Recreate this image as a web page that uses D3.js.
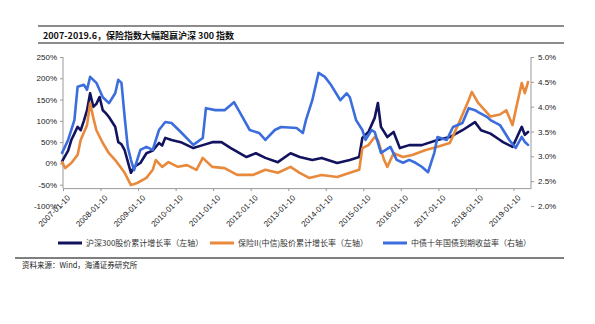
<!DOCTYPE html>
<html>
<head>
<meta charset="utf-8">
<script src="https://cdn.jsdelivr.net/npm/d3@7"></script>
<style>
  html, body { margin: 0; padding: 0; background: #fff; }
  svg { display: block; }
  .ax text { font-family: "Liberation Sans", Arial, sans-serif; font-size: 8px; fill: #222; }
  .cjk { font-family: "Noto Sans CJK SC", sans-serif; }
</style>
</head>
<body>
<svg id="chart" width="595" height="324"></svg>
<script>
// Cumulative price growth of CSI 300 (left axis, %)
const csi300 = [
  ["2007-01", 5], ["2007-03", 30], ["2007-04", 55], ["2007-05", 70], ["2007-06", 86], ["2007-07", 78],
  ["2007-08", 100], ["2007-09", 125], ["2007-10", 165], ["2007-11", 133], ["2007-12", 140],
  ["2008-01", 156], ["2008-02", 125], ["2008-03", 118], ["2008-04", 109],
  ["2008-06", 86], ["2008-07", 50], ["2008-08", 45], ["2008-09", 31], ["2008-11", -22], ["2008-12", -8],
  ["2009-02", 1], ["2009-04", 24], ["2009-06", 30], ["2009-08", 48], ["2009-09", 42], ["2009-10", 60], ["2009-12", 55],
  ["2010-03", 50], ["2010-07", 36], ["2010-10", 43], ["2011-01", 50], ["2011-04", 50],
  ["2011-07", 36], ["2011-12", 15], ["2012-03", 24], ["2012-06", 13], ["2012-10", 3],
  ["2013-02", 24], ["2013-05", 15], ["2013-09", 8], ["2013-12", 13], ["2014-05", 1],
  ["2014-09", 8], ["2014-12", 15], ["2015-01", 60], ["2015-03", 74], ["2015-05", 107],
  ["2015-06", 142], ["2015-07", 86], ["2015-09", 62], ["2015-11", 74], ["2016-01", 36],
  ["2016-04", 43], ["2016-08", 43], ["2017-01", 55], ["2017-05", 62], ["2017-09", 78],
  ["2018-01", 97], ["2018-03", 78], ["2018-06", 70], ["2018-09", 55], ["2018-10", 50],
  ["2019-01", 39], ["2019-02", 55], ["2019-04", 86], ["2019-05", 67], ["2019-06", 74]
];

// Cumulative price growth of CITIC Insurance II index (left axis, %)
const insurance = [
  ["2007-01", 3], ["2007-02", -11], ["2007-04", 1], ["2007-06", 20], ["2007-07", 55],
  ["2007-09", 90], ["2007-10", 142], ["2007-11", 107], ["2007-12", 78], ["2008-02", 48],
  ["2008-04", 24], ["2008-06", 8], ["2008-09", -22], ["2008-11", -51], ["2009-01", -46],
  ["2009-04", -34], ["2009-06", -15], ["2009-07", 8], ["2009-09", -8], ["2009-11", 3],
  ["2010-02", -8], ["2010-05", -4], ["2010-08", -15], ["2010-10", 13], ["2011-01", -8],
  ["2011-05", -11], ["2011-09", -27], ["2012-02", -27], ["2012-06", -15], ["2012-10", -22],
  ["2013-02", -8], ["2013-05", -22], ["2013-08", -34], ["2013-12", -27], ["2014-05", -32],
  ["2014-09", -22], ["2014-12", -15], ["2015-01", 36], ["2015-03", 43], ["2015-05", 62],
  ["2015-06", 55], ["2015-08", 8], ["2015-09", -8], ["2015-11", 24], ["2016-02", 15],
  ["2016-05", 20], ["2016-09", 31], ["2017-01", 39], ["2017-05", 48], ["2017-08", 97],
  ["2017-11", 149], ["2017-12", 168], ["2018-02", 142], ["2018-06", 110], ["2018-09", 115],
  ["2018-11", 125], ["2019-01", 90], ["2019-02", 125], ["2019-04", 189], ["2019-05", 165],
  ["2019-06", 191]
];

// 10-year China government bond yield (right axis, %)
const bond10y = [
  ["2007-01", 3.07], ["2007-03", 3.33], ["2007-05", 3.73], ["2007-06", 4.40], ["2007-08", 4.44],
  ["2007-09", 4.34], ["2007-10", 4.60], ["2007-12", 4.48], ["2008-02", 4.19], ["2008-04", 4.07],
  ["2008-06", 4.27], ["2008-07", 4.54], ["2008-08", 4.48], ["2008-09", 3.79], ["2008-10", 3.19],
  ["2008-11", 2.93], ["2008-12", 2.72], ["2009-02", 3.13], ["2009-04", 3.19], ["2009-06", 3.13],
  ["2009-08", 3.53], ["2009-10", 3.69], ["2009-12", 3.67], ["2010-03", 3.49], ["2010-07", 3.23],
  ["2010-10", 3.37], ["2010-11", 3.97], ["2011-02", 3.93], ["2011-05", 3.93], ["2011-08", 4.09],
  ["2011-10", 3.87], ["2012-01", 3.53], ["2012-04", 3.47], ["2012-06", 3.33], ["2012-09", 3.53],
  ["2012-11", 3.59], ["2013-04", 3.57], ["2013-06", 3.47], ["2013-07", 3.73], ["2013-09", 4.13],
  ["2013-11", 4.68], ["2014-01", 4.60], ["2014-03", 4.44], ["2014-06", 4.13], ["2014-08", 4.27],
  ["2014-09", 4.19], ["2014-11", 3.73], ["2015-01", 3.53], ["2015-02", 3.33], ["2015-04", 3.53],
  ["2015-05", 3.49], ["2015-07", 3.07], ["2015-10", 3.19], ["2015-12", 2.93], ["2016-02", 2.87],
  ["2016-04", 2.93], ["2016-06", 2.87], ["2016-08", 2.79], ["2016-10", 2.68], ["2016-12", 3.07],
  ["2017-01", 3.39], ["2017-04", 3.33], ["2017-06", 3.59], ["2017-09", 3.67], ["2017-11", 3.97],
  ["2018-01", 3.93], ["2018-02", 3.89], ["2018-05", 3.79], ["2018-06", 3.73], ["2018-09", 3.63],
  ["2018-12", 3.33], ["2019-02", 3.17], ["2019-04", 3.39], ["2019-05", 3.29], ["2019-06", 3.23]
];

const xTickDates = ["2007-01-10", "2008-01-10", "2009-01-10", "2010-01-10", "2011-01-10",
  "2012-01-10", "2013-01-10", "2014-01-10", "2015-01-10", "2016-01-10", "2017-01-10",
  "2018-01-10", "2019-01-10"];
const leftTicks = [-100, -50, 0, 50, 100, 150, 200, 250];
const rightTicks = [2.0, 2.5, 3.0, 3.5, 4.0, 4.5, 5.0];

const titleText = "2007-2019.6，保险指数大幅跑赢沪深 300 指数";
const sourceText = "资料来源：Wind，海通证券研究所";
const seriesNames = ["沪深300股价累计增长率（左轴）", "保险II(中信)股价累计增长率（左轴）", "中债十年国债到期收益率（右轴）"];
const seriesColors = ["#12135f", "#e8893b", "#3b6ddc"];

const parseM = d3.timeParse("%Y-%m");
const parseD = d3.timeParse("%Y-%m-%d");
const svg = d3.select("#chart");

// scales
const x = d3.scaleTime()
  .domain([parseD("2007-01-10"), parseD("2019-06-30")])
  .range([63, 531]);
const yL = d3.scaleLinear().domain([-100, 250]).range([206, 57]);
const yR = d3.scaleLinear().domain([2.0, 5.0]).range([206, 57]);
const axisY = yL(-58);

// title block
svg.append("line").attr("x1", 38).attr("x2", 564).attr("y1", 26).attr("y2", 26)
  .attr("stroke", "#666").attr("stroke-width", 1.3);
svg.append("line").attr("x1", 38).attr("x2", 564).attr("y1", 43).attr("y2", 43)
  .attr("stroke", "#666").attr("stroke-width", 1.3);
svg.append("text").attr("class", "cjk").attr("x", 43).attr("y", 38.5)
  .attr("font-size", 9).attr("font-weight", "bold").attr("fill", "#111").text(titleText);

// left axis
const gL = svg.append("g").attr("class", "ax").attr("transform", "translate(63,0)")
  .call(d3.axisLeft(yL).tickValues(leftTicks).tickFormat(d => d + "%").tickSize(3).tickPadding(3));
gL.select(".domain").remove();
gL.selectAll(".tick line").attr("stroke", "#999");
gL.append("line").attr("x1", 0).attr("x2", 0).attr("y1", yL(250)).attr("y2", axisY).attr("stroke", "#999");

// right axis
const gR = svg.append("g").attr("class", "ax").attr("transform", "translate(531,0)")
  .call(d3.axisRight(yR).tickValues(rightTicks).tickFormat(d => d.toFixed(1) + "%").tickSize(3).tickPadding(4));
gR.select(".domain").remove();
gR.selectAll(".tick line").attr("stroke", "#999");
gR.append("line").attr("x1", 0).attr("x2", 0).attr("y1", yR(5.0)).attr("y2", axisY).attr("stroke", "#999");

// bottom (date) axis
const gX = svg.append("g").attr("class", "ax").attr("transform", `translate(0,${axisY})`)
  .call(d3.axisBottom(x).tickValues(xTickDates.map(parseD)).tickFormat(d3.timeFormat("%Y-%m-%d")).tickSize(3).tickSizeOuter(0));
gX.select(".domain").attr("stroke", "#999");
gX.selectAll(".tick line").attr("stroke", "#999");
gX.selectAll(".tick text")
  .attr("text-anchor", "end")
  .attr("dx", 0).attr("dy", 0)
  .attr("transform", "translate(3,6) rotate(-45)");

// series lines
const lineL = d3.line().x(d => x(parseM(d[0]))).y(d => yL(d[1]));
const lineR = d3.line().x(d => x(parseM(d[0]))).y(d => yR(d[1]));
const plot = svg.append("g").attr("fill", "none").attr("stroke-width", 2.6)
  .attr("stroke-linejoin", "round").attr("stroke-linecap", "round");
plot.append("path").attr("d", lineL(csi300)).attr("stroke", seriesColors[0]);
plot.append("path").attr("d", lineL(insurance)).attr("stroke", seriesColors[1]);
plot.append("path").attr("d", lineR(bond10y)).attr("stroke", seriesColors[2]);

// legend
const legendX = [58, 210, 383];
const lg = svg.append("g");
seriesNames.forEach((name, i) => {
  lg.append("line").attr("x1", legendX[i]).attr("x2", legendX[i] + 24)
    .attr("y1", 243).attr("y2", 243).attr("stroke", seriesColors[i]).attr("stroke-width", 3);
  lg.append("text").attr("class", "cjk").attr("x", legendX[i] + 28).attr("y", 246)
    .attr("font-size", 8).attr("fill", "#333").text(name);
});

// footer
svg.append("line").attr("x1", 15).attr("x2", 564).attr("y1", 258).attr("y2", 258)
  .attr("stroke", "#555").attr("stroke-width", 1.3);
svg.append("text").attr("class", "cjk").attr("x", 22).attr("y", 268)
  .attr("font-size", 7.5).attr("fill", "#222").text(sourceText);
</script>
</body>
</html>
